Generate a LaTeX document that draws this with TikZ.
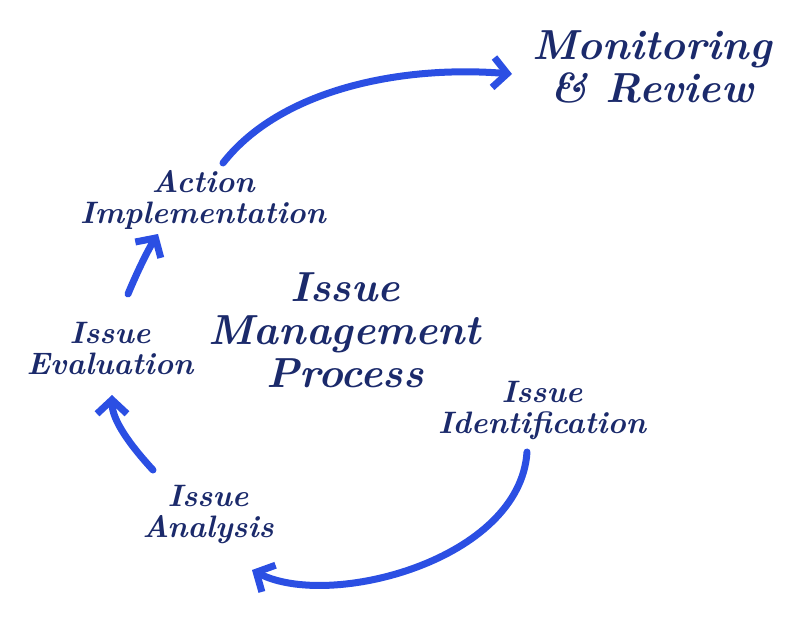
\documentclass[tikz,border=0pt]{standalone}
\usetikzlibrary{arrows.meta}
\definecolor{txt}{HTML}{1B2A6B}
\definecolor{arr}{HTML}{2B4FE3}
\begin{document}
\begin{tikzpicture}[x=1pt,y=-1pt,
  lbl/.style={text=txt,font=\fontsize{31}{31}\selectfont\bfseries\itshape,align=center,inner sep=0},
  big/.style={text=txt,font=\fontsize{42}{43}\selectfont\bfseries\itshape,align=center,inner sep=0},
  flow/.style={draw=arr,line width=7pt,line cap=round,-{Straight Barb[length=14pt,width=30pt,line width=7pt]}}]
\useasboundingbox (0,0) rectangle (800,634);
\node[big] (mon) at (652,67) {Monitoring\\\& Review};
\node[lbl] (act) at (203,200) {Action\\Implementation};
\node[lbl] (eva) at (110,348) {Issue\\Evaluation};
\node[big] (imp) at (345,330) {Issue\\Management\\Process};
\node[lbl] (ide) at (542,410) {Issue\\Identification};
\node[lbl] (ana) at (208,514) {Issue\\Analysis};
\coordinate (a1) at (527,452); \coordinate (b1) at (252,570);
\coordinate (a2) at (153,470); \coordinate (b2) at (112,395);
\coordinate (a3) at (128,294); \coordinate (b3) at (158,234);
\coordinate (a4) at (223,163); \coordinate (b4) at (512,74);
\draw[flow] (a1) .. controls (520,560) and (330,610) .. (b1);
\draw[flow] (a2) .. controls (130,445) and (112,420) .. (b2);
\draw[flow] (a3) .. controls (138,270) and (148,250) .. (b3);
\draw[flow] (a4) .. controls (280,90) and (400,65) .. (b4);
\end{tikzpicture}
\end{document}
